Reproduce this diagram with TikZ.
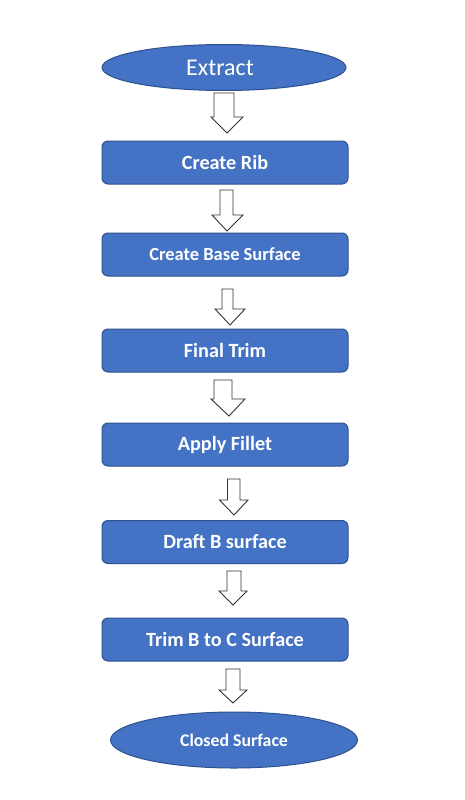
\documentclass[tikz,border=0pt]{standalone}
\usepackage{fontspec}
\setmainfont{Carlito}
\usetikzlibrary{shapes.geometric}
\definecolor{officeblue}{HTML}{4472C4}
\definecolor{officeline}{HTML}{2F528F}
\begin{document}
\begin{tikzpicture}
      [x=1pt,y=-1pt,
      step node/.style={rectangle,rounded corners=6pt,fill=officeblue,draw=officeline,line width=1pt,
        minimum width=246pt,minimum height=43pt,inner sep=0pt,text=white,
        font=\fontsize{20.2}{24}\selectfont\bfseries},
      end node/.style={ellipse,fill=officeblue,draw=officeline,line width=1pt,inner sep=0pt,text=white},
      block arrow/.style={draw=black!80,fill=white,line width=0.9pt,line join=miter}]
      \useasboundingbox (0,0) rectangle (464,800);
      \node[end node,minimum width=244pt,minimum height=46pt,font=\fontsize{24}{28}\selectfont] (s0) at (224,67.5) {\hspace*{-8pt}Extract};
      \node[step node] (s1) at (225,162.5) {Create Rib};
      \node[step node,font=\fontsize{18.5}{22}\selectfont\bfseries] (s2) at (225,254.5) {Create Base Surface};
      \node[step node] (s3) at (225,350.5) {Final Trim};
      \node[step node] (s4) at (225,444.5) {Apply Fillet};
      \node[step node] (s5) at (225,542) {Draft B surface};
      \node[step node] (s6) at (225,639.5) {Trim B to C Surface};
      \node[end node,minimum width=247pt,minimum height=56pt,font=\fontsize{17.8}{21}\selectfont\bfseries] (s7) at (234,740) {Closed Surface};
      % block arrows between the steps
      \draw[block arrow] (214,93) -- (234,93) -- (234,117) -- (243,117) -- (227,133) -- (211,117) -- (214,117) -- cycle;
      \draw[block arrow] (220,190) -- (233,190) -- (233,215) -- (243,215) -- (227,231) -- (212,215) -- (220,215) -- cycle;
      \draw[block arrow] (222,289) -- (233,289) -- (233,309) -- (245,309) -- (230,325) -- (215,309) -- (222,309) -- cycle;
      \draw[block arrow] (214,380) -- (232,380) -- (232,399) -- (245,399) -- (229,416) -- (211,399) -- (214,399) -- cycle;
      \draw[block arrow] (227.5,479) -- (240,479) -- (240,500) -- (248,500) -- (234,515) -- (219.5,500) -- (227.5,500) -- cycle;
      \draw[block arrow] (227,571) -- (241,571) -- (241,591) -- (247,591) -- (233,605) -- (219,591) -- (227,591) -- cycle;
      \draw[block arrow] (226,669) -- (240,669) -- (240,690) -- (247,690) -- (233,703) -- (219,690) -- (226,690) -- cycle;
\end{tikzpicture}
\end{document}
